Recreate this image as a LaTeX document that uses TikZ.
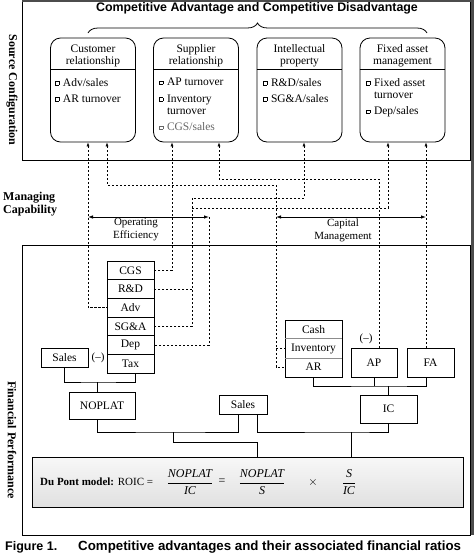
\documentclass[tikz,border=0pt]{standalone}
\usepackage{fontspec}
\usepackage{amsmath}
\setmainfont{Liberation Serif}
\newfontfamily\capfont{Liberation Sans}
\usetikzlibrary{arrows.meta,positioning,decorations.pathreplacing}

\newcommand{\sqb}{\raisebox{1.5pt}{\setlength{\fboxsep}{0pt}\setlength{\fboxrule}{0.4pt}\fbox{\rule{0pt}{3pt}\hspace{3pt}}}\hspace{4pt}}

\tikzset{
  frame/.style={draw,line width=0.8pt},
  srcbox/.style={draw,line width=0.8pt,rounded corners=10pt,minimum width=85pt,minimum height=104pt,inner sep=0pt},
  head/.style={align=center,inner sep=0pt,font=\fontsize{11.5}{12}\selectfont},
  items/.style={anchor=north west,align=left,inner sep=0pt,font=\fontsize{11.5}{12}\selectfont},
  cell/.style={draw,line width=0.8pt,minimum width=47pt,minimum height=18.7pt,inner sep=0pt,font=\fontsize{11.5}{12}\selectfont},
  fbox/.style={draw,line width=0.8pt,inner sep=0pt,font=\fontsize{11.5}{12}\selectfont},
  side/.style={inner sep=0pt,font=\bfseries\fontsize{12}{13}\selectfont},
  lbl/.style={align=center,inner sep=0pt,font=\fontsize{11}{13}\selectfont},
  link/.style={line width=0.6pt,dash pattern=on 2.2pt off 1.8pt},
  up/.style={link,{Latex[length=4pt,width=3pt]}-},
  span/.style={line width=0.8pt,{Latex[length=5pt,width=3.5pt]}-{Latex[length=5pt,width=3.5pt]}},
  tree/.style={line width=0.8pt}
}

\begin{document}
\begin{tikzpicture}[x=1pt,y=-1pt]
  \useasboundingbox (0,0) rectangle (474,555);

  % outer frames
  \draw[frame] (22,1) rectangle (470,160);
  \draw[frame] (22,245) rectangle (470,535);
  \draw[line width=3pt,black!70] (472,0) -- (472,535);
  \draw[line width=2pt,black!70] (22,1) -- (474,1);

  \node[font=\capfont\bfseries\fontsize{12.4}{13}\selectfont,inner sep=0pt] (title) at (257,8) {Competitive Advantage and Competitive Disadvantage};
  \draw[line width=0.8pt,decorate,decoration={brace,amplitude=10pt}] (88,33) -- (427,33);

  \node[side,rotate=-90] (srcl) at (12,90) {Source Configuration};
  \node[side,align=left,anchor=west] (mgl) at (3,204) {Managing\\Capability};
  \node[side,rotate=-90] (finl) at (12,440) {Financial Performance};

  % source boxes
  \node[srcbox] (cust) at (93,90) {};
  \node[srcbox] (supp) at (196,90) {};
  \node[srcbox] (intel) at (299.5,90) {};
  \node[srcbox] (fixed) at (402.5,90) {};
  \foreach \b/\t in {cust/Customer\\relationship, supp/Supplier\\relationship, intel/Intellectual\\property, fixed/Fixed asset\\management} {
    \node[head] at ([yshift=-18pt]\b.north) {\t};
    \draw[line width=0.8pt] ([yshift=-32pt]\b.north west) -- ([yshift=-32pt]\b.north east);
  }
  \node[items] (custi) at (55,78) {\sqb Adv/sales\\[4pt]\sqb AR turnover};
  \node[items] (suppi) at (159,78) {\sqb AP turnover\\[4.5pt]\sqb Inventory\\\phantom{\sqb}turnover\\[4.5pt]\textcolor{black!60}{\sqb CGS/sales}};
  \node[items] (inteli) at (263,78) {\sqb R\&D/sales\\[4pt]\sqb SG\&A/sales};
  \node[items] (fixedi) at (366,78) {\sqb Fixed asset\\\phantom{\sqb}turnover\\[4.5pt]\sqb Dep/sales};

  % managing capability spans
  \coordinate (oeL) at (88,217);
  \coordinate (oeR) at (209,217);
  \coordinate (cmL) at (276,217);
  \coordinate (cmR) at (426,217);
  \draw[span] (oeL) -- (oeR);
  \draw[span] (cmL) -- (cmR);
  \node[lbl] (oel) at (136,230) {Operating\\Efficiency};
  \node[lbl] (cml) at (343,230) {Capital\\Management};

  % cost stack
  \foreach \nm/\tx [count=\i] in {cgs/CGS, rd/R\&D, adv/Adv, sga/SG\&A, dep/Dep, tax/Tax}
    \node[cell] (\nm) at (130.5,{251.65+\i*18.7}) {\tx};
  \node[fbox,minimum width=47pt,minimum height=19pt] (salesA) at (64.5,357.5) {Sales};
  \node[inner sep=0pt,font=\fontsize{11}{12}\selectfont] (minA) at (98,358) {(--)};
  \node[fbox,minimum width=66pt,minimum height=27pt] (noplat) at (102,405.5) {NOPLAT};

  % capital side
  \node[fbox,minimum width=57pt,minimum height=57pt] (wc) at (313.5,348.5) {};
  \node[inner sep=0pt,font=\fontsize{11.5}{12}\selectfont] (cash) at (313.5,330) {Cash};
  \node[inner sep=0pt,font=\fontsize{11.5}{12}\selectfont] (inv) at (313.5,348.5) {Inventory};
  \node[inner sep=0pt,font=\fontsize{11.5}{12}\selectfont] (ar) at (313.5,367) {AR};
  \draw[black!45,line width=0.8pt] ([yshift=-19pt]wc.north west) -- ([yshift=-19pt]wc.north east);
  \draw[black!45,line width=0.8pt] ([yshift=19pt]wc.south west) -- ([yshift=19pt]wc.south east);
  \node[fbox,minimum width=46pt,minimum height=29pt] (ap) at (374,362.5) {AP};
  \node[inner sep=0pt,font=\fontsize{11}{12}\selectfont] (minB) at (366,339) {(--)};
  \node[fbox,minimum width=47pt,minimum height=29pt] (fa) at (430.5,362.5) {FA};
  \node[fbox,minimum width=57pt,minimum height=28pt] (ic) at (388.5,409) {IC};
  \node[fbox,minimum width=48pt,minimum height=19pt] (salesB) at (243,404.5) {Sales};

  % dashed links to the source boxes
  \coordinate (jA) at (276,185);
  \coordinate (jB) at (379,179);
  \coordinate (jC) at (192,198);
  \draw[up] ([xshift=-5pt]cust.south) |- (adv.west);
  \draw[up] ([xshift=14pt]cust.south) |- (jA) |- (ar -| wc.west);
  \draw[link] (jA |- inv) -- (inv -| wc.west);
  \draw[up] ([xshift=-24pt]supp.south) |- (cgs.east);
  \draw[up] ([xshift=23pt]supp.south) |- (jB) -- (jB |- ap.north);
  \draw[up] ([xshift=4.5pt]intel.south) |- (jC) |- (sga.east);
  \draw[link] (jC |- rd.east) -- (rd.east);
  \draw[up] ([xshift=-14.5pt]fixed.south) |- (191,208);
  \draw[link] (oeR) |- (dep.east);
  \draw[up] ([xshift=23.5pt]fixed.south) -- ([xshift=23.5pt]fixed.south |- fa.north);

  % solid trees
  \coordinate (jN) at (97,382);
  \draw[tree] (salesA.south) |- (jN) -| ([xshift=4.5pt]tax.south);
  \draw[tree] (jN) -- (jN |- noplat.north);
  \coordinate (jI) at (388,386);
  \draw[tree] (wc.south) |- (jI) -| ([xshift=-4.5pt]fa.south);
  \draw[tree] (ap.south) -- (ap.south |- jI);
  \draw[tree] (jI) -- (jI |- ic.north);

  \node[draw,line width=0.8pt,minimum width=431pt,minimum height=50pt,top color=black!3,bottom color=black!12] (dup) at (247.5,482) {};
  \coordinate (jL) at (173,432);
  \coordinate (jL2) at (257,442);
  \coordinate (jR) at (351,432);
  \draw[tree] ([xshift=-5pt]noplat.south) |- (jL) -| ([xshift=-5pt]salesB.south);
  \draw[tree] (jL) |- (jL2) -- (jL2 |- dup.north);
  \draw[tree] ([xshift=14pt]salesB.south) |- (jR) -| (ic.south);
  \draw[tree] (jR) -- (jR |- dup.north);

  % Du Pont formula
  \node[anchor=west,inner sep=0pt,font=\fontsize{11}{12}\selectfont] (roic) at (40,482) {\textbf{Du Pont model:} ROIC =};
  \node[inner sep=0pt,font=\fontsize{12}{13}\selectfont] (f1) at (190,482) {$\dfrac{\textit{NOPLAT}}{\textit{IC}}$};
  \node[inner sep=0pt,font=\fontsize{12}{13}\selectfont] (eq) at (222,482) {=};
  \node[inner sep=0pt,font=\fontsize{12}{13}\selectfont] (f2) at (262,482) {$\dfrac{\textit{NOPLAT}}{\textit{S}}$};
  \node[inner sep=0pt,font=\fontsize{12}{13}\selectfont] (tm) at (313,482) {$\times$};
  \node[inner sep=0pt,font=\fontsize{12}{13}\selectfont] (f3) at (349,482) {$\dfrac{\textit{S}}{\textit{IC}}$};

  % caption
  \node[anchor=west,inner sep=0pt,font=\capfont\bfseries\fontsize{12.5}{13}\selectfont] (fig) at (5,547) {Figure 1.};
  \node[anchor=west,inner sep=0pt,font=\capfont\bfseries\fontsize{13.3}{14}\selectfont] (cap) at (78,547) {Competitive advantages and their associated financial ratios};
\end{tikzpicture}
\end{document}
